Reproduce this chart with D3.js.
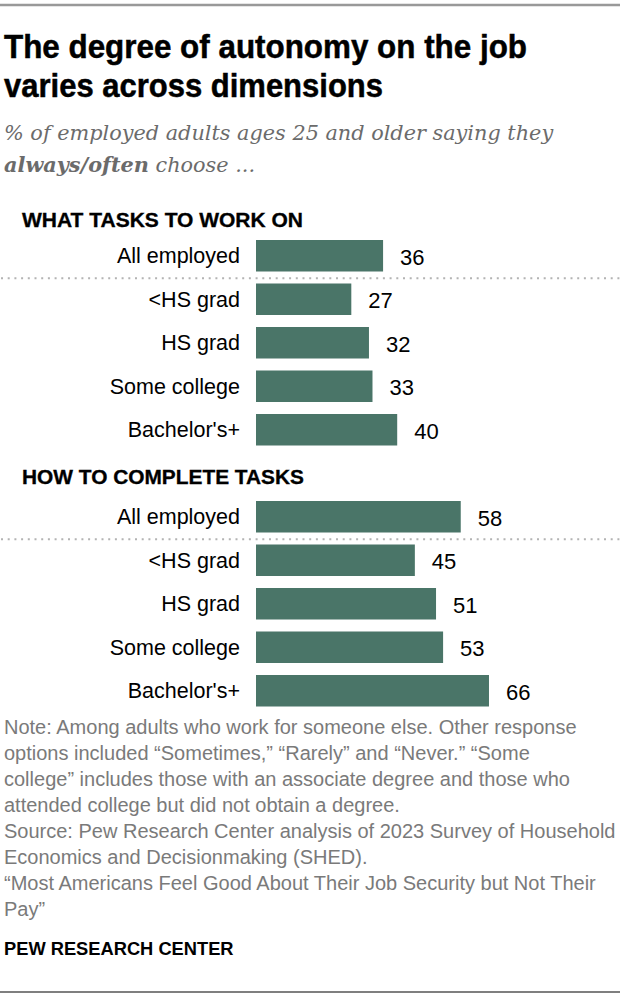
<!DOCTYPE html>
<html>
<head>
<meta charset="utf-8">
<script src="https://cdn.jsdelivr.net/npm/d3@7"></script>
<style>
  html, body { margin: 0; padding: 0; background: #fff; }
  svg { display: block; }
</style>
</head>
<body>
<svg id="chart" width="620" height="1000"></svg>
<script>
// ---- Data ----
const groups = ["WHAT TASKS TO WORK ON", "HOW TO COMPLETE TASKS"];
const categories = ["All employed", "<HS grad", "HS grad", "Some college", "Bachelor's+"];
const tasksValues = [36, 27, 32, 33, 40];
const completeValues = [58, 45, 51, 53, 66];
const titleLines = ["The degree of autonomy on the job", "varies across dimensions"];
const noteLines = [
  "Note: Among adults who work for someone else. Other response",
  "options included \u201cSometimes,\u201d \u201cRarely\u201d and \u201cNever.\u201d \u201cSome",
  "college\u201d includes those with an associate degree and those who",
  "attended college but did not obtain a degree.",
  "Source: Pew Research Center analysis of 2023 Survey of Household",
  "Economics and Decisionmaking (SHED).",
  "\u201cMost Americans Feel Good About Their Job Security but Not Their",
  "Pay\u201d"
];

// ---- Layout ----
const svg = d3.select("#chart");
const sans = "'Liberation Sans', Arial, sans-serif";
const barColor = "#4a7568";

// top rule
svg.append("line").attr("x1", 0).attr("x2", 620).attr("y1", 5).attr("y2", 5)
  .attr("stroke", "#999").attr("stroke-width", 2.5);

// title
const titleW = [523, 379];
titleLines.forEach((t, i) => {
  svg.append("text").attr("x", 4).attr("y", 57.5 + i * 39)
    .attr("font-family", "'Liberation Sans Narrow', 'Liberation Sans', Arial, sans-serif")
    .attr("font-weight", "bold").attr("font-size", 33.5).attr("fill", "#000")
    .attr("stroke", "#000").attr("stroke-width", 0.5)
    .attr("textLength", titleW[i]).attr("lengthAdjust", "spacingAndGlyphs")
    .text(t);
});

// subtitle
svg.append("text").attr("x", 4).attr("y", 140)
  .attr("font-family", "'DejaVu Serif', Georgia, serif").attr("font-style", "italic")
  .attr("font-size", 20.8).attr("fill", "#6b6b6b")
  .text("% of employed adults ages 25 and older saying they");
const sub2 = svg.append("text").attr("x", 4).attr("y", 172)
  .attr("font-family", "'DejaVu Serif', Georgia, serif").attr("font-style", "italic")
  .attr("font-size", 20.8).attr("fill", "#6b6b6b");
sub2.append("tspan").attr("font-weight", "bold").text("always/often");
sub2.append("tspan").text(" choose ...");

// x scale
const x = d3.scaleLinear().domain([0, 100]).range([256, 609]);

const groupSpecs = [
  { name: groups[0], values: tasksValues, top: 240, headY: 227, headW: 281 },
  { name: groups[1], values: completeValues, top: 501, headY: 484, headW: 282 }
];
const step = 43.5, bh = 31.5;

groupSpecs.forEach(g => {
  const y = d3.scaleBand().domain(categories)
    .range([g.top, g.top + step * (categories.length - 1) + bh])
    .paddingInner((step - bh) / step).paddingOuter(0);

  svg.append("text").attr("x", 22).attr("y", g.headY)
    .attr("font-family", sans).attr("font-weight", "bold").attr("font-size", 19.5)
    .attr("textLength", g.headW).attr("lengthAdjust", "spacingAndGlyphs")
    .attr("stroke", "#000").attr("stroke-width", 0.3)
    .attr("fill", "#000").text(g.name);

  const data = categories.map((c, i) => ({ c, v: g.values[i] }));
  const gg = svg.append("g");

  gg.selectAll("rect").data(data).join("rect")
    .attr("x", x(0)).attr("y", d => y(d.c))
    .attr("width", d => x(d.v) - x(0)).attr("height", y.bandwidth())
    .attr("fill", barColor);

  gg.selectAll("text.cat").data(data).join("text").attr("class", "cat")
    .attr("x", 240).attr("y", d => y(d.c) + y.bandwidth() / 2 + 7.5)
    .attr("text-anchor", "end").attr("font-family", sans).attr("font-size", 21.5)
    .attr("fill", "#000").text(d => d.c);

  gg.selectAll("text.val").data(data).join("text").attr("class", "val")
    .attr("x", d => x(d.v) + 17).attr("y", d => y(d.c) + y.bandwidth() / 2 + 9)
    .attr("font-family", sans).attr("font-size", 22)
    .attr("fill", "#000").text(d => d.v);

  // dotted separator between "All employed" and education groups
  const sepY = (y(categories[0]) + y.bandwidth() + y(categories[1])) / 2 + 0.7;
  svg.append("line").attr("x1", 1).attr("x2", 620).attr("y1", sepY).attr("y2", sepY)
    .attr("stroke", "#b3b3b3").attr("stroke-width", 2)
    .attr("stroke-dasharray", "2 4.7");
});

// notes
noteLines.forEach((t, i) => {
  svg.append("text").attr("x", 4).attr("y", 733.7 + i * 26)
    .attr("font-family", sans).attr("font-size", 20).attr("fill", "#7a7a7a")
    .text(t);
});

// logo
svg.append("text").attr("x", 4).attr("y", 955)
  .attr("font-family", sans).attr("font-weight", "bold").attr("font-size", 18.3)
  .attr("fill", "#000").text("PEW RESEARCH CENTER");

// bottom rule
svg.append("line").attr("x1", 0).attr("x2", 620).attr("y1", 992).attr("y2", 992)
  .attr("stroke", "#555").attr("stroke-width", 1.5);
</script>
</body>
</html>
